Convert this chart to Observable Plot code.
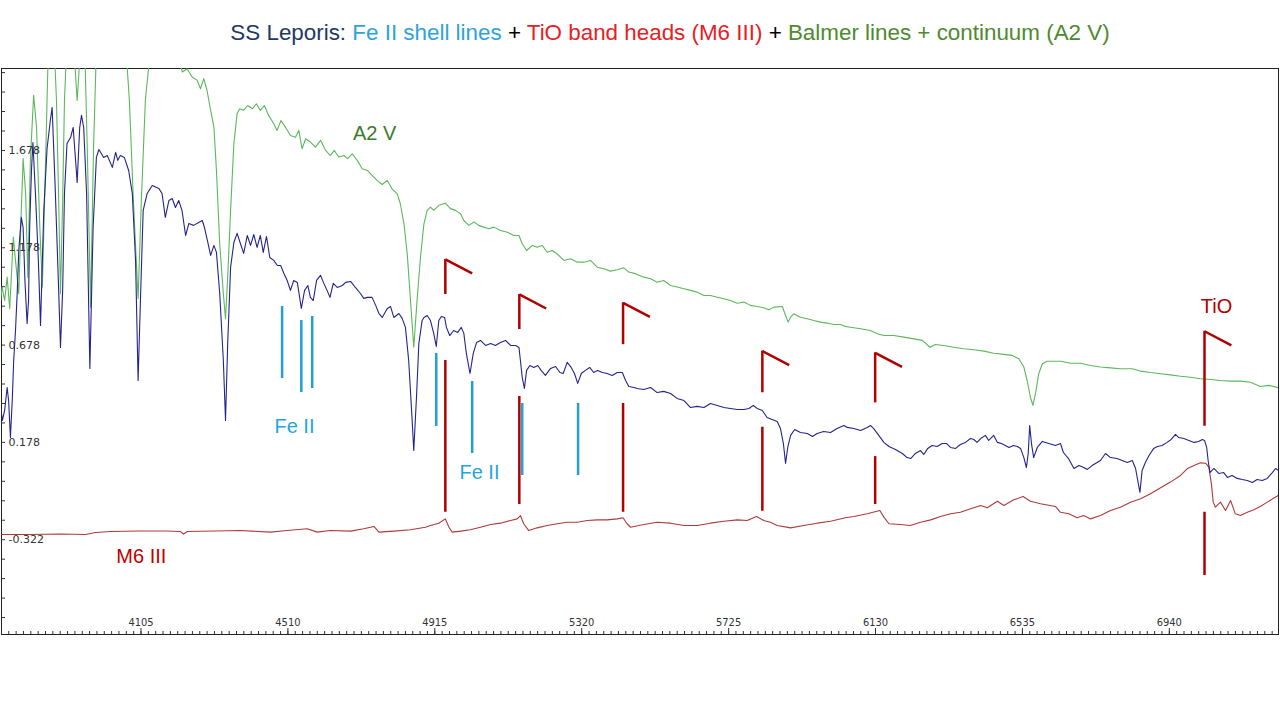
<!DOCTYPE html>
<html><head><meta charset="utf-8">
<script src="https://cdn.jsdelivr.net/npm/d3@7"></script>
<script src="https://cdn.jsdelivr.net/npm/@observablehq/plot@0.6"></script>
<style>
body{margin:0;background:#fff;width:1280px;height:720px;overflow:hidden;font-family:"Liberation Sans",Arial,sans-serif}
#title{height:67px;line-height:66px;font-size:22.4px;text-align:center;padding-left:60px;box-sizing:border-box;white-space:nowrap;color:#000}
#chart svg{display:block}
</style></head><body>
<div id="title"><span style="color:#1f3864">SS Leporis: </span><span style="color:#2ea3dc">Fe II shell lines</span> + <span style="color:#e8201e">TiO band heads (M6 III)</span> + <span style="color:#4e8a2e">Balmer lines + continuum (A2 V)</span></div>
<div id="chart"></div>
<script>
// SS Lep spectrum [wavelength Å, relative flux]
const ssLep = [
[3718,0.357],[3723,0.291],[3729,0.342],[3736,0.460],[3740,0.393],[3745,0.203],[3750,0.393],[3754,0.599],[3759,0.753],[3764,0.959],
[3768,1.164],[3775,1.334],[3780,1.282],[3785,1.010],[3791,0.789],[3795,0.907],[3798,1.282],[3803,1.575],[3807,1.719],[3814,1.457],
[3822,1.113],[3828,0.779],[3837,1.370],[3846,1.688],[3855,1.832],[3860,1.899],[3869,1.457],[3878,0.959],[3883,0.666],[3889,0.959],
[3894,1.457],[3901,1.714],[3911,1.745],[3918,1.796],[3929,1.514],[3936,1.796],[3941,1.858],[3947,1.796],[3955,1.457],[3964,0.558],
[3973,1.282],[3982,1.642],[3989,1.683],[4002,1.642],[4012,1.652],[4026,1.591],[4035,1.668],[4041,1.627],[4048,1.652],[4059,1.642],
[4071,1.575],[4081,1.457],[4090,1.113],[4097,0.496],[4104,0.943],[4111,1.370],[4122,1.457],[4136,1.498],[4154,1.483],[4163,1.457],
[4172,1.334],[4182,1.421],[4191,1.431],[4200,1.385],[4209,1.421],[4218,1.370],[4228,1.241],[4237,1.303],[4250,1.293],[4264,1.308],
[4274,1.318],[4280,1.282],[4288,1.216],[4297,1.139],[4306,1.190],[4313,1.154],[4322,0.943],[4332,0.599],[4338,0.291],[4344,0.686],
[4352,1.077],[4361,1.205],[4370,1.252],[4379,1.200],[4388,1.149],[4398,1.241],[4407,1.190],[4416,1.246],[4425,1.180],[4434,1.241],
[4442,1.154],[4451,1.236],[4460,1.128],[4471,1.113],[4481,1.087],[4490,1.087],[4499,1.046],[4508,1.010],[4517,0.959],[4526,1.010],
[4536,1.000],[4547,0.866],[4556,0.959],[4565,0.984],[4572,0.923],[4580,0.907],[4589,1.010],[4600,1.036],[4609,0.995],[4618,0.959],
[4626,0.923],[4635,0.995],[4646,0.974],[4660,0.984],[4669,1.000],[4683,1.005],[4696,0.974],[4710,0.943],[4719,0.918],[4729,0.923],
[4742,0.923],[4752,0.882],[4761,0.840],[4770,0.820],[4784,0.866],[4793,0.876],[4802,0.820],[4816,0.840],[4825,0.815],[4834,0.769],
[4843,0.599],[4851,0.342],[4857,0.136],[4865,0.429],[4871,0.686],[4880,0.804],[4885,0.820],[4894,0.830],[4903,0.804],[4912,0.738],
[4919,0.671],[4926,0.804],[4933,0.825],[4942,0.820],[4947,0.769],[4956,0.727],[4967,0.753],[4978,0.743],[4988,0.769],[4995,0.738],
[5002,0.635],[5012,0.532],[5021,0.635],[5030,0.691],[5041,0.702],[5055,0.676],[5069,0.686],[5082,0.676],[5096,0.691],[5110,0.702],
[5124,0.676],[5138,0.676],[5147,0.666],[5151,0.599],[5156,0.512],[5162,0.455],[5168,0.548],[5177,0.573],[5188,0.563],[5199,0.573],
[5208,0.548],[5220,0.522],[5234,0.558],[5248,0.568],[5260,0.537],[5269,0.532],[5280,0.589],[5291,0.563],[5300,0.532],[5309,0.481],
[5319,0.532],[5330,0.548],[5342,0.563],[5353,0.537],[5364,0.548],[5377,0.537],[5390,0.532],[5404,0.522],[5418,0.537],[5432,0.537],
[5441,0.496],[5450,0.465],[5464,0.460],[5473,0.455],[5491,0.450],[5510,0.460],[5528,0.434],[5546,0.440],[5565,0.429],[5583,0.404],
[5602,0.393],[5620,0.357],[5638,0.363],[5657,0.357],[5675,0.378],[5694,0.368],[5712,0.357],[5730,0.352],[5749,0.347],[5767,0.347],
[5781,0.352],[5793,0.368],[5804,0.352],[5818,0.342],[5831,0.306],[5845,0.296],[5859,0.285],[5868,0.249],[5876,0.172],[5882,0.070],
[5888,0.152],[5896,0.214],[5907,0.244],[5923,0.229],[5942,0.224],[5956,0.208],[5969,0.224],[5987,0.234],[6006,0.229],[6024,0.249],
[6043,0.265],[6052,0.255],[6070,0.249],[6089,0.239],[6107,0.255],[6116,0.265],[6125,0.249],[6139,0.214],[6153,0.178],[6167,0.157],
[6185,0.142],[6204,0.121],[6217,0.100],[6227,0.095],[6240,0.121],[6254,0.136],[6263,0.116],[6274,0.147],[6286,0.162],[6300,0.157],
[6314,0.172],[6326,0.172],[6337,0.152],[6351,0.147],[6364,0.167],[6378,0.178],[6392,0.198],[6401,0.193],[6410,0.178],[6420,0.198],
[6433,0.214],[6442,0.188],[6456,0.214],[6466,0.178],[6477,0.172],[6488,0.162],[6498,0.152],[6510,0.162],[6521,0.157],[6530,0.147],
[6539,0.100],[6546,0.049],[6551,0.121],[6555,0.265],[6560,0.172],[6566,0.100],[6576,0.152],[6590,0.183],[6608,0.172],[6626,0.162],
[6640,0.172],[6648,0.126],[6662,0.095],[6677,0.044],[6691,0.059],[6704,0.049],[6714,0.039],[6727,0.059],[6741,0.075],[6750,0.085],
[6764,0.121],[6778,0.100],[6796,0.095],[6810,0.085],[6824,0.075],[6838,0.085],[6847,0.044],[6853,-0.018],[6859,-0.079],[6865,0.034],
[6874,0.075],[6884,0.111],[6897,0.147],[6907,0.157],[6920,0.162],[6934,0.178],[6945,0.193],[6957,0.219],[6966,0.203],[6980,0.198],
[6994,0.188],[7008,0.178],[7021,0.183],[7031,0.193],[7037,0.188],[7043,0.152],[7047,0.085],[7052,0.023],[7063,0.044],[7077,0.018],
[7090,0.023],[7100,-0.002],[7113,0.008],[7127,-0.007],[7141,-0.013],[7155,-0.018],[7169,-0.028],[7182,-0.013],[7196,-0.018],[7210,-0.007],
[7224,0.023],[7233,0.044],[7241,0.034]
];
// A2 V comparison spectrum
const a2v = [
[3718,0.907],[3722,0.976],[3729,0.907],[3736,1.027],[3743,0.865],[3753,1.233],[3759,1.113],[3768,0.942],[3775,1.370],[3780,1.636],
[3787,1.456],[3793,1.027],[3800,1.627],[3809,1.961],[3817,1.798],[3826,1.284],[3833,0.976],[3842,1.627],[3848,2.089],[3855,2.192],
[3866,2.200],[3872,1.935],[3878,1.421],[3883,0.942],[3889,1.421],[3894,1.935],[3900,2.200],[3912,2.300],[3920,2.200],[3929,1.935],
[3938,2.200],[3944,2.250],[3950,2.200],[3957,1.678],[3966,0.873],[3974,1.678],[3982,2.200],[4021,2.300],[4062,2.243],[4073,1.935],
[4084,1.421],[4097,0.918],[4106,1.421],[4117,1.935],[4131,2.200],[4173,2.250],[4208,2.150],[4219,2.081],[4232,2.098],[4246,2.055],
[4260,2.038],[4269,1.995],[4278,2.047],[4287,1.986],[4297,1.884],[4306,1.798],[4313,1.575],[4322,1.199],[4332,0.942],[4338,0.813],
[4344,1.027],[4352,1.370],[4361,1.713],[4370,1.867],[4377,1.892],[4388,1.884],[4399,1.909],[4412,1.892],[4423,1.918],[4434,1.884],
[4445,1.909],[4457,1.858],[4471,1.815],[4480,1.781],[4491,1.832],[4503,1.798],[4517,1.755],[4531,1.746],[4540,1.781],[4549,1.687],
[4559,1.738],[4572,1.721],[4586,1.695],[4600,1.730],[4614,1.678],[4627,1.652],[4638,1.678],[4650,1.644],[4664,1.652],[4675,1.636],
[4687,1.661],[4701,1.627],[4715,1.584],[4729,1.575],[4742,1.550],[4756,1.524],[4770,1.503],[4784,1.524],[4797,1.481],[4811,1.456],
[4820,1.404],[4830,1.301],[4839,1.147],[4848,0.907],[4857,0.667],[4866,0.907],[4876,1.139],[4885,1.301],[4894,1.370],[4903,1.387],
[4912,1.370],[4926,1.396],[4944,1.407],[4958,1.379],[4972,1.370],[4986,1.353],[4995,1.318],[5009,1.293],[5023,1.310],[5036,1.293],
[5050,1.284],[5064,1.276],[5078,1.284],[5096,1.267],[5115,1.258],[5133,1.241],[5147,1.241],[5156,1.199],[5168,1.164],[5184,1.190],
[5197,1.181],[5211,1.190],[5225,1.155],[5239,1.164],[5252,1.147],[5271,1.113],[5289,1.122],[5308,1.104],[5326,1.104],[5344,1.113],
[5363,1.078],[5381,1.070],[5399,1.058],[5418,1.065],[5436,1.075],[5450,1.053],[5468,1.045],[5491,1.027],[5510,1.019],[5528,1.001],
[5546,1.010],[5565,0.984],[5583,0.976],[5602,0.967],[5620,0.959],[5638,0.950],[5657,0.933],[5675,0.933],[5694,0.924],[5712,0.916],
[5730,0.907],[5749,0.893],[5767,0.899],[5785,0.882],[5804,0.876],[5822,0.870],[5836,0.859],[5850,0.873],[5873,0.876],[5882,0.830],
[5889,0.796],[5896,0.821],[5905,0.839],[5923,0.821],[5942,0.813],[5960,0.804],[5978,0.796],[5997,0.791],[6015,0.784],[6034,0.784],
[6047,0.774],[6061,0.770],[6089,0.762],[6116,0.753],[6135,0.736],[6153,0.727],[6180,0.727],[6208,0.719],[6236,0.710],[6259,0.702],
[6280,0.667],[6295,0.681],[6318,0.676],[6346,0.667],[6373,0.659],[6401,0.654],[6429,0.647],[6456,0.636],[6484,0.630],[6507,0.625],
[6525,0.608],[6539,0.565],[6548,0.496],[6557,0.410],[6564,0.368],[6571,0.428],[6580,0.531],[6590,0.582],[6603,0.595],[6626,0.595],
[6640,0.595],[6668,0.585],[6695,0.585],[6723,0.573],[6750,0.565],[6778,0.561],[6805,0.556],[6838,0.556],[6861,0.544],[6888,0.537],
[6916,0.531],[6943,0.525],[6971,0.518],[6998,0.513],[7026,0.505],[7054,0.501],[7081,0.496],[7109,0.493],[7136,0.493],[7164,0.487],
[7191,0.465],[7214,0.471],[7240,0.459]
];
// M6 III comparison spectrum
const m6iii = [
[3718,-0.295],[3800,-0.295],[3883,-0.293],[3952,-0.295],[3980,-0.285],[4021,-0.280],[4104,-0.277],[4172,-0.277],[4214,-0.280],[4222,-0.293],
[4233,-0.280],[4310,-0.277],[4379,-0.275],[4462,-0.283],[4508,-0.275],[4563,-0.266],[4591,-0.283],[4627,-0.275],[4683,-0.278],[4719,-0.266],
[4747,-0.254],[4761,-0.283],[4802,-0.278],[4848,-0.271],[4889,-0.258],[4903,-0.249],[4926,-0.237],[4944,-0.215],[4954,-0.258],[4963,-0.283],
[4986,-0.278],[5013,-0.271],[5041,-0.258],[5069,-0.244],[5096,-0.237],[5124,-0.223],[5142,-0.215],[5151,-0.198],[5160,-0.240],[5174,-0.275],
[5197,-0.261],[5225,-0.249],[5252,-0.240],[5280,-0.232],[5308,-0.232],[5335,-0.223],[5363,-0.220],[5390,-0.220],[5418,-0.215],[5434,-0.209],
[5445,-0.240],[5455,-0.258],[5491,-0.244],[5528,-0.232],[5565,-0.237],[5602,-0.249],[5638,-0.249],[5675,-0.237],[5712,-0.227],[5749,-0.220],
[5776,-0.223],[5802,-0.203],[5822,-0.223],[5840,-0.232],[5859,-0.249],[5896,-0.261],[5932,-0.249],[5969,-0.237],[6006,-0.227],[6047,-0.209],
[6070,-0.203],[6107,-0.189],[6142,-0.172],[6153,-0.206],[6167,-0.240],[6199,-0.244],[6226,-0.249],[6254,-0.232],[6282,-0.220],[6309,-0.203],
[6337,-0.189],[6364,-0.181],[6392,-0.163],[6420,-0.146],[6438,-0.158],[6466,-0.124],[6484,-0.146],[6511,-0.117],[6537,-0.100],[6557,-0.124],
[6585,-0.137],[6626,-0.151],[6640,-0.181],[6663,-0.189],[6686,-0.209],[6704,-0.198],[6723,-0.215],[6750,-0.198],[6778,-0.172],[6805,-0.155],
[6833,-0.129],[6861,-0.112],[6888,-0.086],[6916,-0.055],[6943,-0.026],[6971,0.008],[6989,0.042],[7008,0.059],[7026,0.073],[7040,0.071],
[7049,0.051],[7056,-0.035],[7061,-0.129],[7067,-0.155],[7081,-0.129],[7095,-0.172],[7109,-0.121],[7122,-0.189],[7136,-0.198],[7155,-0.181],
[7173,-0.168],[7191,-0.151],[7210,-0.129],[7240,-0.095]
];
// Fe II shell line markers: [wavelength, top flux, bottom flux]
const feIIMarks = [[4494,0.876,0.506],[4547,0.804,0.434],[4577,0.825,0.455],[4919,0.635,0.260],[5018,0.491,0.121],[5156,0.378,0.008],[5310,0.378,0.008]];
// TiO band heads: [wavelength, upper top, upper bottom, lower top, lower bottom]
const tioHeads = [[4944,1.118,0.938,0.599,-0.181],[5148,0.938,0.758,0.414,-0.141],[5434,0.895,0.680,0.378,-0.181],[5818,0.647,0.433,0.256,-0.176],[6129,0.638,0.381,0.105,-0.141],[7037,0.749,0.261,-0.181,-0.506]];
const flagDw = 74, flagDf = -0.072;
// Labels
const feIILabels = [[4528,0.260],[5038,0.023]];
const spectrumLabels = [["A2 V",4749,1.766],["M6 III",4106,-0.408]];
const tioLabel = [["TiO",7070,0.876]];
// Axis ticks
const xTicks = [4105,4510,4915,5320,5725,6130,6535,6940];
const yTicks = [1.678,1.178,0.678,0.178,-0.322];
const xDomain = [3720.4, 7241];
const yDomain = [-0.809, 2.099];

const toXY = arr => arr.map(([w,f]) => ({w, f}));
const xMinor = d3.range(4105 - 20.25*19, 7241, 20.25);
const yMinor = d3.range(-0.722, 2.1, 0.1);

const fonts = "'Liberation Sans', Arial, sans-serif";
const chart = Plot.plot({
  width: 1280, height: 653,
  marginTop: 1, marginBottom: 86, marginLeft: 1, marginRight: 2,
  x: {domain: xDomain},
  y: {domain: yDomain},
  style: {fontFamily: "'DejaVu Sans', sans-serif", fontSize: "11px", color: "#333", background: "#fff"},
  marks: [
    Plot.frame({stroke: "#222"}),
    Plot.line(toXY(a2v), {x: "w", y: "f", stroke: "#5cb85c", strokeWidth: 1.1, clip: true}),
    Plot.line(toXY(m6iii), {x: "w", y: "f", stroke: "#b03a3a", strokeWidth: 1.1, clip: true}),
    Plot.line(toXY(ssLep), {x: "w", y: "f", stroke: "#24248e", strokeWidth: 1.1, clip: true}),
    Plot.ruleX(feIIMarks, {x: d => d[0], y1: d => d[1], y2: d => d[2], stroke: "#249fd4", strokeWidth: 2.5}),
    Plot.ruleX(tioHeads, {x: d => d[0], y1: d => d[1], y2: d => d[2], stroke: "#b00000", strokeWidth: 2.5}),
    Plot.ruleX(tioHeads, {x: d => d[0], y1: d => d[3], y2: d => d[4], stroke: "#b00000", strokeWidth: 2.5}),
    Plot.link(tioHeads, {x1: d => d[0], y1: d => d[1], x2: d => d[0] + flagDw, y2: d => d[1] + flagDf, stroke: "#b00000", strokeWidth: 2.5}),
    Plot.text(feIILabels, {x: d => d[0], y: d => d[1], text: () => "Fe II", fill: "#1fa6e0", fontSize: 20, fontFamily: fonts}),
    Plot.text(spectrumLabels, {x: d => d[1], y: d => d[2], text: d => d[0], fill: d => d[0] === "A2 V" ? "#3d7a2a" : "#c00000", fontSize: 20, fontFamily: fonts}),
    Plot.text(tioLabel, {x: d => d[1], y: d => d[2], text: d => d[0], fill: "#b00000", fontSize: 20, fontFamily: fonts}),
    Plot.axisX(xMinor, {anchor: "bottom", tickSize: -3, fill: "none", label: null, stroke: "#333"}),
    Plot.axisX(xTicks, {anchor: "bottom", tickSize: -6, fill: "none", label: null, stroke: "#333"}),
    Plot.text(xTicks, {x: d => d, frameAnchor: "bottom", dy: -9, text: d => String(d), fontFamily: "'DejaVu Sans Condensed','DejaVu Sans',sans-serif", fontSize: 11, fill: "#333"}),
    Plot.axisY(yMinor, {anchor: "left", tickSize: -4, fill: "none", label: null, stroke: "#333"}),
    Plot.text(yTicks, {y: d => d, frameAnchor: "left", dx: 7, textAnchor: "start", text: d => d.toFixed(3), fontSize: 11, fill: "#333"})
  ]
});
document.getElementById("chart").appendChild(chart);
</script>
</body></html>
